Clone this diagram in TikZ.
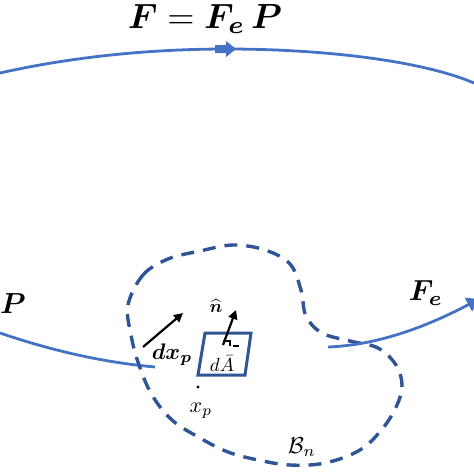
\documentclass[tikz,border=0pt]{standalone}
\usepackage{amsmath}
\usepackage{bm}
\usepackage{graphicx}
\usetikzlibrary{arrows.meta}
\definecolor{lineblue}{HTML}{4472C4}
\definecolor{darkblue}{HTML}{2F5597}
\tikzset{
  curveline/.style={draw=lineblue, line width=2.8pt},
  dashblob/.style={draw=darkblue, line width=3.4pt, dash pattern=on 13pt off 9pt},
  blackarrow/.style={draw=black, line width=2.2pt, -{Triangle[length=9pt,width=9pt]}},
  lbl/.style={inner sep=0pt, text=black},
}
\begin{document}
\begin{tikzpicture}[x=1pt,y=-1pt]
\useasboundingbox (0,0) rectangle (474,474);
% top curve
\coordinate (tl) at (0,73);
\coordinate (tm) at (227,49);
\coordinate (tr) at (474,83);
\draw[curveline] (tl) .. controls (80,55) and (160,49) .. (tm) .. controls (320,49) and (420,60) .. (tr);
\fill[lineblue] (215,45) -- (226,45) -- (226,41) -- (236,49) -- (226,57) -- (226,53) -- (215,53) -- cycle;
\node[lbl] (title) at (205,19) {\scalebox{3.5}{$\bm{F} = \bm{F_e}\,\bm{P}$}};
% lower left curve
\coordinate (ll) at (0,333);
\coordinate (lr) at (155,367);
\draw[curveline] (ll) .. controls (50,350) and (100,362) .. (lr);
\node[lbl] (P) at (13,304) {\scalebox{2.9}{$\bm{P}$}};
% blob
\draw[dashblob] plot[smooth cycle, tension=0.6] coordinates {
(128,305) (143,275) (168,259) (200,251) (233,245) (265,250) (290,264) (301,290) (306,316) (322,333) (350,341) (378,348) (396,365) (402,385) (397,405) (383,428) (360,450) (325,463) (290,465) (258,460) (228,452) (200,438) (172,420) (152,395) (139,365) (131,335)};
% right curve
\coordinate (rs) at (328,347);
\coordinate (re) at (479,299);
\draw[curveline, -{Triangle[length=12pt,width=15pt]}] (rs) .. controls (380,345) and (430,325) .. (re);
\node[lbl] (Fe) at (426,293) {\scalebox{2.9}{$\bm{F_e}$}};
% area element
\draw[darkblue, line width=3pt] (205,333) -- (251,333) -- (245,375) -- (198,375) -- cycle;
\node[lbl] (dA) at (222,364) {\scalebox{1.9}{$d\bar{A}$}};
\coordinate (nb) at (223,345);
\coordinate (nt) at (236,310);
\draw[blackarrow] (nb) -- (nt);
\draw[black, line width=1.2pt] (223,341) -- (230,341) -- (230,346);
\draw[black, line width=1.2pt] (233,346) -- (239,346);
\node[lbl] (n) at (216,306) {\scalebox{1.8}{$\widehat{\bm{n}}$}};
% dx_p
\coordinate (db) at (143,347);
\coordinate (dt) at (183,313);
\draw[blackarrow] (db) -- (dt);
\node[lbl] (dx) at (172,355) {\scalebox{2.25}{$\bm{dx_p}$}};
% point x_p
\fill[black] (198,387) circle (1.6);
\node[lbl] (xp) at (201,411) {\scalebox{2.2}{$x_p$}};
\node[lbl] (Bn) at (302,447) {\scalebox{2.3}{$\mathcal{B}_n$}};
\end{tikzpicture}
\end{document}
